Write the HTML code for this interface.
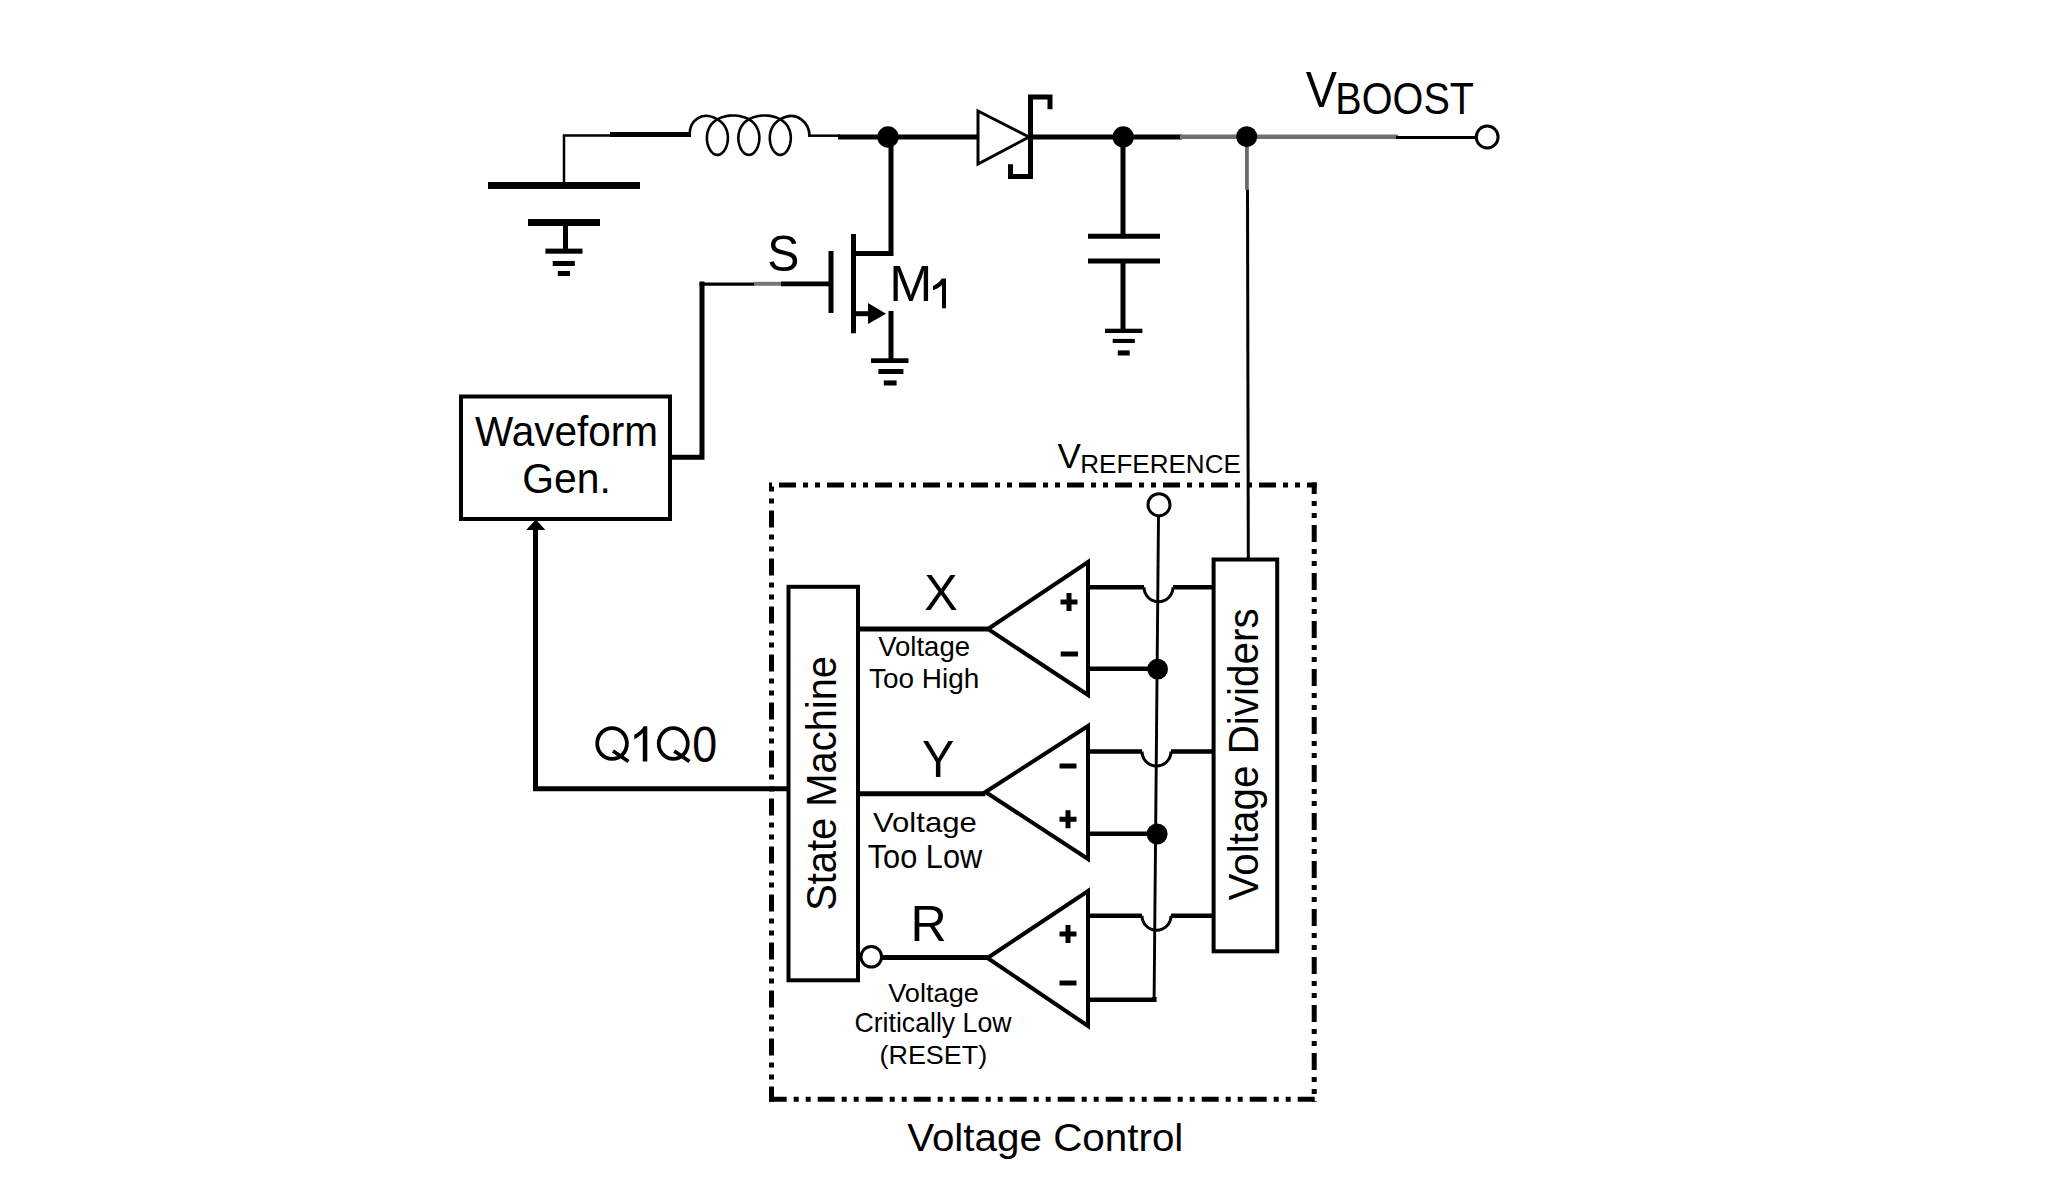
<!DOCTYPE html>
  <html><head><meta charset="utf-8"><style>
  html,body{margin:0;padding:0;background:#fff;overflow:hidden;}
  svg{display:block;}
  text{font-family:"Liberation Sans",sans-serif;fill:#000;}
  </style></head><body>
  <svg width="2046" height="1177" viewBox="0 0 2046 1177">
  <rect x="0" y="0" width="2046" height="1177" fill="#fff"/>
  <g fill="none" stroke="#000" stroke-linecap="butt" stroke-linejoin="miter">
<!-- battery -->
<path d="M564,183V135.5H612" stroke-width="2.5"/>
<path d="M610,134.5H691" stroke-width="5"/>
<path d="M689.6,134.5C689.6,122.00 700.47,109.62 717.40,119.30L718.91,120.24 720.33,121.29 721.63,122.44 722.83,123.69 723.91,125.03 724.86,126.47 725.69,127.99 726.39,129.58 726.95,131.23 727.39,132.94 727.69,134.69 727.86,136.47 727.90,138.25 727.81,140.03 727.60,141.79 727.27,143.51 726.83,145.16 726.29,146.74 725.64,148.23 724.91,149.60 724.09,150.84 723.21,151.94 722.26,152.88 721.26,153.65 720.22,154.25 719.14,154.65 718.05,154.87 716.96,154.88 715.87,154.71 714.79,154.34 713.74,153.78 712.73,153.04 711.77,152.14 710.87,151.07 710.04,149.85 709.29,148.50 708.63,147.04 708.06,145.48 707.60,143.83 707.25,142.13 707.02,140.38 706.91,138.60 706.92,136.81 707.07,135.03 707.34,133.28 707.75,131.56 708.29,129.89 708.97,128.29 709.77,126.76 710.70,125.30 711.75,123.94 712.93,122.67 714.21,121.51 715.61,120.44 717.10,119.47 718.69,118.62 720.35,117.86 722.10,117.22 723.90,116.67 725.76,116.23 727.67,115.90 729.60,115.66 731.56,115.53 733.52,115.50 735.48,115.57 737.43,115.75 739.36,116.02 741.24,116.40 743.08,116.88 744.86,117.46 746.58,118.15 748.21,118.95 749.76,119.85 751.22,120.86 752.57,121.96 753.81,123.17 754.94,124.48 755.94,125.88 756.82,127.36 757.57,128.93 758.19,130.56 758.68,132.25 759.03,133.98 759.26,135.75 759.35,137.53 759.31,139.32 759.15,141.09 758.87,142.82 758.47,144.50 757.97,146.12 757.36,147.64 756.67,149.06 755.88,150.36 755.02,151.52 754.10,152.52 753.12,153.36 752.09,154.03 751.03,154.51 749.95,154.80 748.85,154.90 747.75,154.80 746.67,154.51 745.61,154.03 744.58,153.36 743.60,152.52 742.68,151.52 741.82,150.36 741.03,149.06 740.34,147.64 739.73,146.12 739.23,144.50 738.83,142.82 738.55,141.09 738.39,139.32 738.35,137.53 738.44,135.75 738.67,133.98 739.02,132.25 739.51,130.56 740.13,128.93 740.88,127.36 741.76,125.88 742.76,124.48 743.89,123.17 745.13,121.96 746.48,120.86 747.94,119.85 749.49,118.95 751.12,118.15 752.84,117.46 754.62,116.88 756.46,116.40 758.34,116.02 760.27,115.75 762.22,115.57 764.18,115.50 766.14,115.53 768.10,115.66 770.03,115.90 771.94,116.23 773.80,116.67 775.60,117.22 777.35,117.86 779.01,118.62 780.60,119.47 782.09,120.44 783.49,121.51 784.77,122.67 785.95,123.94 787.00,125.30 787.93,126.76 788.73,128.29 789.41,129.89 789.95,131.56 790.36,133.28 790.63,135.03 790.78,136.81 790.79,138.60 790.68,140.38 790.45,142.13 790.10,143.83 789.64,145.48 789.07,147.04 788.41,148.50 787.66,149.85 786.83,151.07 785.93,152.14 784.97,153.04 783.96,153.78 782.91,154.34 781.83,154.71 780.74,154.88 779.65,154.87 778.56,154.65 777.48,154.25 776.44,153.65 775.44,152.88 774.49,151.94 773.61,150.84 772.79,149.60 772.06,148.23 771.41,146.74 770.87,145.16 770.43,143.51 770.10,141.79 769.89,140.03 769.80,138.25 769.84,136.47 770.01,134.69 770.31,132.94 770.75,131.23 771.31,129.58 772.01,127.99 772.84,126.47 773.79,125.03 774.87,123.69 776.07,122.44 777.37,121.29 778.79,120.24 780.30,119.30C797.23,109.62 809.5,123.50 809.5,136" stroke-width="2.6"/>
<path d="M808,135.7H840" stroke-width="2.5"/>
<path d="M838,137H978" stroke-width="5"/>
<!-- diode -->
<path d="M978,111L1029,137L978,164Z" stroke-width="3"/>
<path d="M1010.5,164.3V176.5H1030.5V97H1050V109.3" stroke-width="5"/>
<path d="M1030,137H1182" stroke-width="5"/>
<path d="M1180,136.8H1398" stroke="#707070" stroke-width="4.6"/>
<path d="M1396,137.6H1477" stroke-width="3"/>
<circle cx="1487.2" cy="137" r="10.9" stroke-width="3" fill="#fff"/>
<!-- capacitor -->
<path d="M1123,137V236.3M1088,236.3H1160M1088,261H1160M1123,261V331" stroke-width="5"/>
<!-- M1 -->
<path d="M891,137V253.5H853.5" stroke-width="5"/>
<path d="M853.5,234V333.3" stroke-width="5"/>
<path d="M831,251V313" stroke-width="5"/>
<path d="M670,457.3H702V281.5" stroke-width="5"/>
<path d="M699.5,284.2H755" stroke-width="3.2"/>
<path d="M754,283.8H782" stroke="#777" stroke-width="4"/>
<path d="M781,283.8H831" stroke-width="4.7"/>
<path d="M856,313.7H870" stroke-width="5"/>
<path d="M891,311V361" stroke-width="5"/>
<!-- waveform gen box -->
<rect x="461" y="396.5" width="209" height="122.5" stroke-width="4"/>
<path d="M535.5,528V788.7H789" stroke-width="5"/>
<!-- dashed box -->
<g stroke-width="5" stroke-dasharray="17 7 5 7 5 7">
<path d="M769,485.1H1316.7" stroke-dashoffset="38"/>
<path d="M1314.2,482.6V1101.7" stroke-dashoffset="5.5"/>
<path d="M769,1099.2H1316.7" stroke-dashoffset="47.3"/>
<path d="M771.5,482.6V1101.7" stroke-dashoffset="20"/>
</g>
<!-- state machine box -->
<rect x="788.5" y="586.8" width="69.5" height="393.5" stroke-width="4"/>
<!-- voltage dividers box -->
<rect x="1213.6" y="559.5" width="63.6" height="391.8" stroke-width="4"/>
<path d="M1246.9,140V189.5" stroke="#686868" stroke-width="3.8"/>
<path d="M1247.5,189.5L1248.3,559.5" stroke-width="3"/>
<!-- comparators -->
<path d="M988,629L1088,562V695Z" stroke-width="4"/>
<path d="M985.5,792L1088,726V859Z" stroke-width="4"/>
<path d="M987.5,958L1088,891V1026Z" stroke-width="4"/>
<!-- outputs -->
<path d="M857,629H988M857,793.7H985.5" stroke-width="5"/>
<path d="M882,957.6H988" stroke-width="5"/>
<circle cx="871.3" cy="956.8" r="10.3" stroke-width="3" fill="#fff"/>
<!-- inputs -->
<path d="M1088,587.3H1144M1173,587.3H1214" stroke-width="4.6"/>
<path d="M1144,587.3A14.5,14.5 0 0 0 1173,587.3" stroke-width="3"/>
<path d="M1088,751.5H1142M1171,751.5H1214" stroke-width="4.6"/>
<path d="M1142,751.5A14.5,14.5 0 0 0 1171,751.5" stroke-width="3"/>
<path d="M1088,915.7H1142M1171,915.7H1214" stroke-width="4.6"/>
<path d="M1142,915.7A14.5,14.5 0 0 0 1171,915.7" stroke-width="3"/>
<path d="M1088,668.8H1157.6M1088,833.7H1157.2" stroke-width="4.6"/>
<path d="M1088,999.8H1154.3V997" stroke-width="4.6"/>
<path d="M1158.5,516L1154.1,1000" stroke-width="2.9"/>
<circle cx="1159" cy="504.7" r="11" stroke-width="3" fill="#fff"/>
</g>
<g fill="#000" stroke="none">
<!-- battery plates and grounds -->
<rect x="488" y="182" width="152" height="7"/>
<rect x="528" y="219" width="72" height="7"/>
<rect x="563" y="226" width="5" height="25"/>
<rect x="545.4" y="248.6" width="37.1" height="5.1"/>
<rect x="552.7" y="261" width="22.1" height="5"/>
<rect x="557.8" y="271" width="12.2" height="5"/>
<!-- M1 ground -->
<rect x="871" y="358.3" width="37.5" height="4.7"/>
<rect x="878.4" y="369" width="25" height="5"/>
<rect x="883.8" y="380.4" width="12.8" height="5.1"/>
<path d="M868,303L886,313.7L868,324Z"/>
<!-- cap ground -->
<rect x="1105" y="328.7" width="37.4" height="4.3"/>
<rect x="1112.7" y="338.9" width="22.1" height="4.1"/>
<rect x="1117.8" y="350.4" width="11.9" height="5.1"/>
<!-- dots -->
<circle cx="888" cy="137" r="10.7"/>
<circle cx="1123.2" cy="137" r="10.7"/>
<circle cx="1246.7" cy="136.7" r="10.5"/>
<circle cx="1157.6" cy="669.1" r="10.4"/>
<circle cx="1157.1" cy="834" r="10.5"/>
<!-- arrow into waveform box -->
<path d="M535.8,519.6L545.4,529.9H526.2Z"/>
<!-- plus / minus -->
<path d="M1060.5,599.5h17v5h-17zM1066.5,593h5v18h-5z"/>
<path d="M1060.7,651.5h17.3v5h-17.3z"/>
<path d="M1059.5,763.5h17v5h-17z"/>
<path d="M1059.5,816.8h17v5h-17zM1065.5,810.3h5v18h-5z"/>
<path d="M1059.5,931.5h17v5h-17zM1065.5,925h5v18h-5z"/>
<path d="M1059.5,980.5h17v5h-17z"/>
</g>
<!-- glyph paths: 1 and Q -->
<g fill="#000" stroke="none">
<path d="M647.3,726.3V761.5H642.8V733C640.5,735.5 637.5,737.8 634.3,739.3V734.8C638.5,732.8 642,729.5 643.8,726.3Z"/>
<path d="M946,278.4V308.2H942V285C940,287 936.5,289 933,290.2V286C936.8,284.2 940,281.5 941.8,278.4Z"/>
</g>
<g fill="none" stroke="#000">
<ellipse cx="612.05" cy="743.55" rx="14.85" ry="15.35" stroke-width="3.8"/>
<path d="M613,751L628.5,761.5" stroke-width="3.8"/>
<ellipse cx="673.25" cy="743.55" rx="14.55" ry="15.35" stroke-width="3.8"/>
<path d="M674.2,751L689.5,761.5" stroke-width="3.8"/>
</g>

  <text x="768" y="270" font-size="48" text-anchor="start" transform="matrix(1.00385 0 0 1.02477 -3.735 -5.419)">S</text>
<text x="891" y="301" font-size="48" text-anchor="start" transform="matrix(1.07791 0 0 1.03625 -71.150 -11.178)">M</text>
<text x="1303" y="107" font-size="48" text-anchor="start" transform="matrix(0.97368 0 0 1.04713 37.118 -5.312)">V</text>
<text x="1336" y="114" font-size="41" text-anchor="start" transform="matrix(0.96678 0 0 1.09090 43.695 -10.272)">BOOST</text>
<text x="565" y="445.7" font-size="41" text-anchor="middle" transform="matrix(0.98846 0 0 1.01544 8.036 -6.969)">Waveform</text>
<text x="565" y="492" font-size="41" text-anchor="middle" transform="matrix(0.99552 0 0 1.04284 4.088 -20.449)">Gen.</text>
<text x="1056" y="467" font-size="35" text-anchor="start" transform="matrix(1.00398 0 0 1.01721 -2.582 -7.146)">V</text>
<text x="1080" y="472" font-size="25" text-anchor="start" transform="matrix(1.04194 0 0 0.99654 -45.002 2.236)">REFERENCE</text>
<text x="940" y="609" font-size="48" text-anchor="middle" transform="matrix(1.04529 0 0 1.03114 -41.610 -18.069)">X</text>
<text x="925" y="657" font-size="27" text-anchor="middle" transform="matrix(1.01927 0 0 0.99577 -18.685 1.881)">Voltage</text>
<text x="925" y="688.8" font-size="27" text-anchor="middle" transform="matrix(1.03448 0 0 0.99577 -32.743 2.287)">Too High</text>
<text x="938" y="775.5" font-size="48" text-anchor="middle" transform="matrix(1.01123 0 0 1.06655 -10.419 -50.299)">Y</text>
<text x="925" y="832.8" font-size="30" text-anchor="middle" transform="matrix(1.03619 0 0 0.94324 -33.557 46.733)">Voltage</text>
<text x="925" y="868.2" font-size="30" text-anchor="middle" transform="matrix(1.02453 0 0 1.08920 -22.726 -77.589)">Too Low</text>
<text x="929" y="940" font-size="48" text-anchor="middle" transform="matrix(1.04478 0 0 1.04713 -41.878 -43.575)">R</text>
<text x="933" y="1002" font-size="27" text-anchor="middle" transform="matrix(1.00759 0 0 0.96523 -6.513 35.140)">Voltage</text>
<text x="933" y="1032.7" font-size="27" text-anchor="middle" transform="matrix(0.98750 0 0 0.99577 11.639 3.741)">Critically Low</text>
<text x="933" y="1064.7" font-size="27" text-anchor="middle" transform="matrix(0.99849 0 0 0.93106 1.765 72.646)">(RESET)</text>
<text transform="matrix(1.03605 0 0 0.97279 -31.410 21.714) translate(837.6,783) rotate(-90)" font-size="41" text-anchor="middle">State Machine</text>
<text transform="matrix(1.02814 0 0 0.98618 -36.064 9.265) translate(1258.5,755.6) rotate(-90)" font-size="41" text-anchor="middle">Voltage Dividers</text>
<text x="1044" y="1151.8" font-size="41" text-anchor="middle" transform="matrix(0.98549 0 0 0.96806 16.407 36.194)">Voltage Control</text>
<text x="694" y="761.5" font-size="48" text-anchor="start" transform="matrix(0.93370 0 0 1.04391 44.385 -33.101)">0</text>
  </svg>
  </body></html>
